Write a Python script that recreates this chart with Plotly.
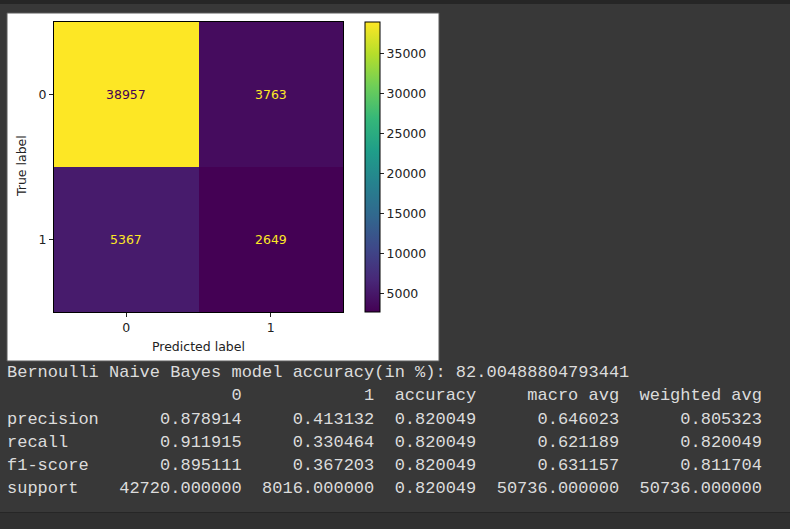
import plotly.graph_objects as go
import pandas as pd

# ---------------- data ----------------
class_labels = ["0", "1"]
cm_values = [[38957, 3763],
             [5367, 2649]]
colorbar_ticks = [5000, 10000, 15000, 20000, 25000, 30000, 35000]

model_name = "Bernoulli Naive Bayes"
accuracy_pct = 82.00488804793441

report_columns = ["0", "1", "accuracy", "macro avg", "weighted avg"]
report_rows = ["precision", "recall", "f1-score", "support"]
precision = [0.878914, 0.413132, 0.820049, 0.646023, 0.805323]
recall = [0.911915, 0.330464, 0.820049, 0.621189, 0.820049]
f1_score = [0.895111, 0.367203, 0.820049, 0.631157, 0.811704]
support = [42720.0, 8016.0, 0.820049, 50736.0, 50736.0]

# ---------------- layout helpers ----------------
W, H = 790, 529
def px(x):
    return x / W
def py(y):
    return 1 - y / H

BG = "#383838"
TXT = "#dcdcdc"
zmin = min(min(r) for r in cm_values)
zmax = max(max(r) for r in cm_values)

fig = go.Figure()
fig.add_trace(go.Heatmap(
    z=cm_values, x=[0, 1], y=[0, 1],
    colorscale="Viridis", zmin=zmin, zmax=zmax,
    xgap=0, ygap=0, hoverinfo="skip",
    colorbar=dict(
        x=px(365), xanchor="left", xref="paper",
        y=py(22), yanchor="top", yref="paper",
        thickness=15, thicknessmode="pixels",
        len=290, lenmode="pixels",
        xpad=0, ypad=0,
        outlinewidth=1, outlinecolor="#000000",
        ticks="outside", ticklen=4, tickwidth=1, tickcolor="#222222",
        tickvals=colorbar_ticks, tickformat="d",
        tickfont=dict(family="DejaVu Sans", size=12.5, color="#222222"),
    ),
))

shapes = [
    # top dark strip
    dict(type="rect", xref="paper", yref="paper", x0=0, x1=1, y0=py(4), y1=1,
         fillcolor="#262626", line_width=0, layer="below"),
    # bottom band
    dict(type="rect", xref="paper", yref="paper", x0=0, x1=1, y0=0, y1=py(513),
         fillcolor="#303030", line_width=0, layer="below"),
    dict(type="line", xref="paper", yref="paper", x0=0, x1=1, y0=py(512.5), y1=py(512.5),
         line=dict(color="#262626", width=1), layer="below"),
    # white figure panel
    dict(type="rect", xref="paper", yref="paper", x0=px(7), x1=px(439), y0=py(361), y1=py(13),
         fillcolor="#ffffff", line=dict(color="#5a5a5a", width=1), layer="below"),
]

annotations = []
# cell values
for i, row in enumerate(cm_values):
    for j, v in enumerate(row):
        col = "#440154" if v > (zmin + zmax) / 2 else "#fde725"
        annotations.append(dict(
            x=j, y=i, xref="x", yref="y", text=str(v), showarrow=False,
            font=dict(family="DejaVu Sans", size=12.5, color=col)))

# axis titles
annotations.append(dict(x=px(198), y=py(346), xref="paper", yref="paper",
                        xanchor="center", yanchor="middle",
                        text="Predicted label", showarrow=False,
                        font=dict(family="DejaVu Sans", size=12.5, color="#222222")))
annotations.append(dict(x=px(21), y=py(166), xref="paper", yref="paper",
                        xanchor="center", yanchor="middle",
                        text="True label", showarrow=False, textangle=-90,
                        font=dict(family="DejaVu Sans", size=12.5, color="#222222")))

# text output below
df = pd.DataFrame([precision, recall, f1_score, support],
                  index=report_rows, columns=report_columns)
lines = [f"{model_name} model accuracy(in %): {accuracy_pct}"] + df.to_string().split("\n")
line_y = [372, 395.5, 419, 442, 465, 488.5]
for k, line in enumerate(lines):
    annotations.append(dict(
        x=px(5), y=py(line_y[k]), xref="paper", yref="paper",
        xanchor="left", yanchor="middle", showarrow=False,
        text=line.replace(" ", "\u00a0"),
        font=dict(family="Liberation Mono", size=17, color=TXT)))

axis_common = dict(
    showline=True, linecolor="#000000", linewidth=1, mirror=True,
    ticks="outside", ticklen=4, tickwidth=1, tickcolor="#222222",
    showgrid=False, zeroline=False,
    tickfont=dict(family="DejaVu Sans", size=12.5, color="#222222"),
)

fig.update_layout(
    width=W, height=H,
    margin=dict(l=0, r=0, t=0, b=0),
    paper_bgcolor=BG, plot_bgcolor="#ffffff",
    showlegend=False,
    xaxis=dict(domain=[px(54), px(343)], range=[-0.5, 1.5],
               tickvals=[0, 1], ticktext=class_labels, **axis_common),
    yaxis=dict(domain=[py(312), py(22)], range=[1.5, -0.5],
               tickvals=[0, 1], ticktext=class_labels, **axis_common),
    shapes=shapes,
    annotations=annotations,
)

fig.write_html(
    "out.html",
    config={"displayModeBar": False},
    post_script="document.body.style.margin='0';document.body.style.overflow='hidden';"
                "document.body.style.background='" + BG + "';",
)
